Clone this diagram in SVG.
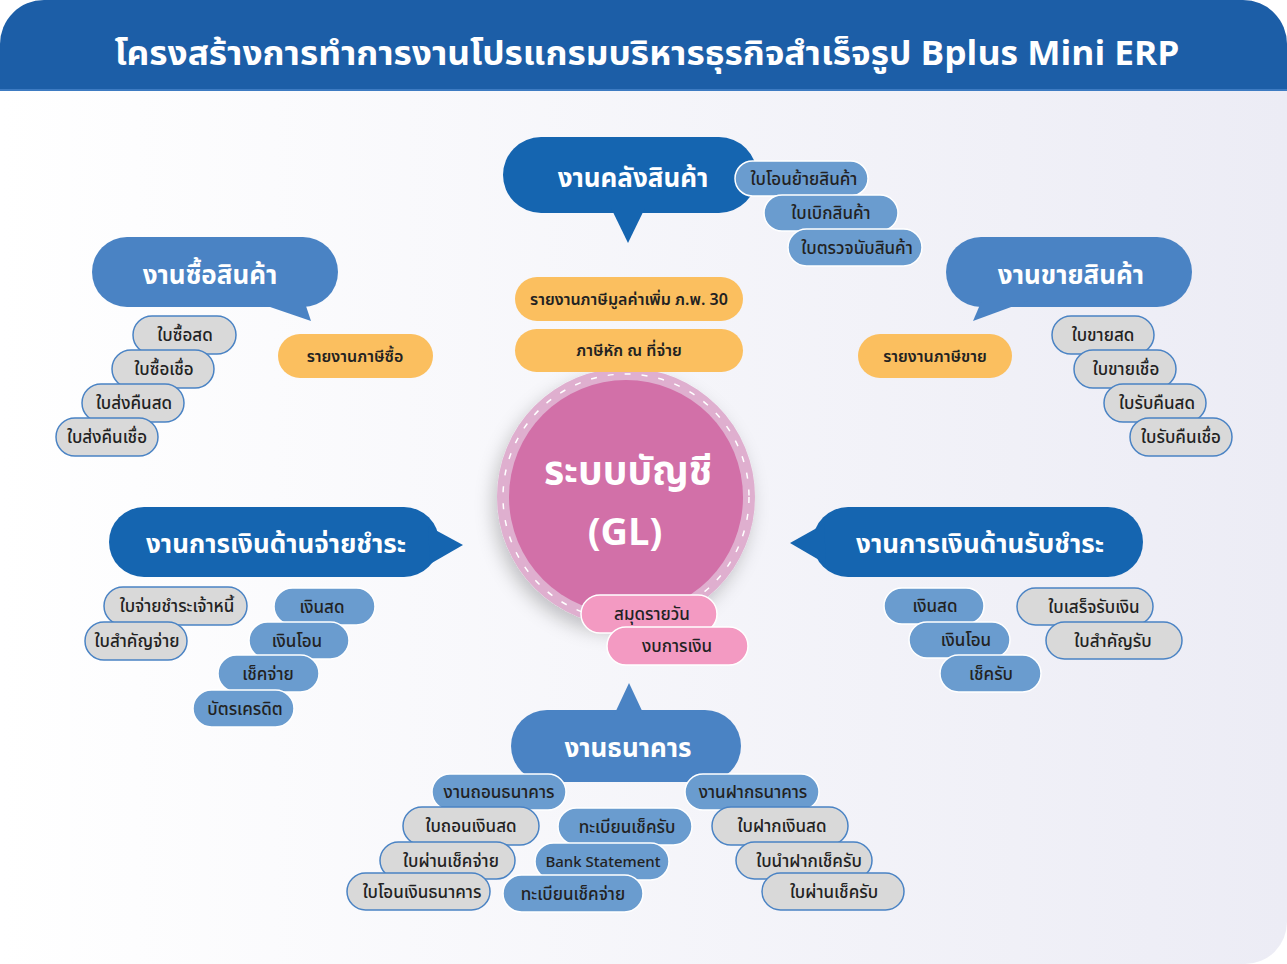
<svg xmlns="http://www.w3.org/2000/svg" width="1287" height="964" viewBox="0 0 1287 964">
<defs>
<linearGradient id="bg" x1="0" y1="0" x2="1" y2="0">
<stop offset="0" stop-color="#ffffff"/>
<stop offset="1" stop-color="#ececf5"/>
</linearGradient>
<filter id="sh" x="-30%" y="-30%" width="160%" height="160%">
<feDropShadow dx="-4" dy="8" stdDeviation="9" flood-color="#000" flood-opacity="0.22"/>
</filter>
<style>
text{font-family:"Noto Sans Thai","Noto Sans","DejaVu Sans",sans-serif;text-anchor:middle}
.head{fill:#fff;font-size:26px;font-weight:700}
.lbl{fill:#222;font-size:17px;font-weight:500}
.olbl{fill:#222;font-size:16px;font-weight:600}
.dk{fill:#1565b0}
.md{fill:#4a83c4}
.lb{fill:#6a9ccf;stroke:#fff;stroke-width:1.5}
.gr{fill:#d9d9d9;stroke:#4a83c4;stroke-width:1.5}
.or{fill:#fbbf5f}
.pk{fill:#f39ac2;stroke:#fff;stroke-width:1.5}
</style>
</defs>
<path d="M0,44 A44,44 0 0 1 44,0 H1243 A44,44 0 0 1 1287,44 V922 A42,42 0 0 1 1245,964 H0 Z" fill="url(#bg)"/>
<g id="header">
<path d="M0,44 A44,44 0 0 1 44,0 H1243 A44,44 0 0 1 1287,44 V90 H0 Z" fill="#1c5ea7"/>
<line x1="0" y1="90" x2="1287" y2="90" stroke="#3d7bc2" stroke-width="2"/>
<text x="647" y="65" textLength="1065" lengthAdjust="spacingAndGlyphs" style="fill:#fff;font-size:34px;font-weight:700">โครงสร้างการทำการงานโปรแกรมบริหารธุรกิจสำเร็จรูป Bplus Mini ERP</text>
</g>
<g id="connectors"/>
<g id="gl">
<circle cx="626" cy="497" r="129" fill="#dfafcf" filter="url(#sh)"/>
<circle cx="626" cy="497" r="117" fill="#d270a8"/>
<circle cx="626" cy="497" r="123" fill="none" stroke="#fff" stroke-width="1.5" stroke-dasharray="6 11"/>
<text x="628" y="484" style="fill:#fff;font-size:39px;font-weight:700">ระบบบัญชี</text>
<text x="625" y="545" style="fill:#fff;font-size:38px;font-weight:700">(GL)</text>
</g>
<g id="warehouse">
<rect class="dk" x="503" y="137" width="254" height="76" rx="38"/>
<polygon class="dk" points="611,208 645,208 628,243"/>
<text class="head" x="633" y="187">งานคลังสินค้า</text>
<rect class="lb" x="735" y="161" width="133" height="35" rx="17.5"/>
<text class="lbl" x="804" y="185">ใบโอนย้ายสินค้า</text>
<rect class="lb" x="764" y="195" width="134" height="36" rx="18"/>
<text class="lbl" x="831" y="219">ใบเบิกสินค้า</text>
<rect class="lb" x="788" y="229" width="134" height="37" rx="18.5"/>
<text class="lbl" x="857" y="254">ใบตรวจนับสินค้า</text>
</g>
<g id="tax">
<rect class="or" x="515" y="277" width="228" height="44" rx="22"/>
<text class="olbl" x="629" y="305">รายงานภาษีมูลค่าเพิ่ม ภ.พ. 30</text>
<rect class="or" x="515" y="329" width="228" height="43" rx="21.5"/>
<text class="olbl" x="629" y="356">ภาษีหัก ณ ที่จ่าย</text>
</g>
<g id="purchase">
<rect class="md" x="92" y="237" width="246" height="70" rx="35"/>
<polygon class="md" points="250,300 304,300 311,321"/>
<text class="head" x="210" y="284">งานซื้อสินค้า</text>
<rect class="or" x="278" y="334" width="155" height="44" rx="22"/>
<text class="olbl" x="355" y="362">รายงานภาษีซื้อ</text>
<rect class="gr" x="133" y="316" width="103" height="38" rx="19"/>
<text class="lbl" x="185" y="341">ใบซื้อสด</text>
<rect class="gr" x="112" y="350" width="102" height="38" rx="19"/>
<text class="lbl" x="164" y="375">ใบซื้อเชื่อ</text>
<rect class="gr" x="82" y="384" width="102" height="38" rx="19"/>
<text class="lbl" x="134" y="409">ใบส่งคืนสด</text>
<rect class="gr" x="56" y="418" width="102" height="38" rx="19"/>
<text class="lbl" x="107" y="443">ใบส่งคืนเชื่อ</text>
</g>
<g id="sales">
<rect class="md" x="946" y="237" width="246" height="70" rx="35"/>
<polygon class="md" points="982,300 1030,300 973,321"/>
<text class="head" x="1071" y="284">งานขายสินค้า</text>
<rect class="or" x="858" y="334" width="154" height="44" rx="22"/>
<text class="olbl" x="935" y="362">รายงานภาษีขาย</text>
<rect class="gr" x="1052" y="316" width="102" height="38" rx="19"/>
<text class="lbl" x="1103" y="341">ใบขายสด</text>
<rect class="gr" x="1074" y="350" width="102" height="38" rx="19"/>
<text class="lbl" x="1126" y="375">ใบขายเชื่อ</text>
<rect class="gr" x="1104" y="384" width="102" height="38" rx="19"/>
<text class="lbl" x="1157" y="409">ใบรับคืนสด</text>
<rect class="gr" x="1130" y="418" width="102" height="38" rx="19"/>
<text class="lbl" x="1181" y="443">ใบรับคืนเชื่อ</text>
</g>
<g id="payment">
<rect class="dk" x="109" y="507" width="330" height="70" rx="35"/>
<polygon class="dk" points="428,526 463,545 430,564"/>
<text class="head" x="276" y="553">งานการเงินด้านจ่ายชำระ</text>
<rect class="gr" x="104" y="587" width="143" height="38" rx="19"/>
<text class="lbl" x="177" y="612">ใบจ่ายชำระเจ้าหนี้</text>
<rect class="gr" x="85" y="622" width="102" height="38" rx="19"/>
<text class="lbl" x="137" y="647">ใบสำคัญจ่าย</text>
<rect class="lb" x="274" y="588" width="101" height="37" rx="18.5"/>
<text class="lbl" x="322" y="613">เงินสด</text>
<rect class="lb" x="249" y="622" width="100" height="37" rx="18.5"/>
<text class="lbl" x="297" y="647">เงินโอน</text>
<rect class="lb" x="218" y="655" width="101" height="37" rx="18.5"/>
<text class="lbl" x="268" y="680">เช็คจ่าย</text>
<rect class="lb" x="193" y="690" width="101" height="37" rx="18.5"/>
<text class="lbl" x="245" y="715">บัตรเครดิต</text>
</g>
<g id="receipt">
<rect class="dk" x="813" y="507" width="330" height="70" rx="35"/>
<polygon class="dk" points="824,524 790,543 826,564"/>
<text class="head" x="980" y="553">งานการเงินด้านรับชำระ</text>
<rect class="lb" x="884" y="588" width="100" height="36" rx="18"/>
<text class="lbl" x="935" y="612">เงินสด</text>
<rect class="lb" x="909" y="622" width="101" height="36" rx="18"/>
<text class="lbl" x="966" y="646">เงินโอน</text>
<rect class="lb" x="940" y="655" width="101" height="37" rx="18.5"/>
<text class="lbl" x="991" y="680">เช็ครับ</text>
<rect class="gr" x="1017" y="588" width="136" height="37" rx="18.5"/>
<text class="lbl" x="1094" y="613">ใบเสร็จรับเงิน</text>
<rect class="gr" x="1046" y="622" width="136" height="37" rx="18.5"/>
<text class="lbl" x="1113" y="647">ใบสำคัญรับ</text>
</g>
<g id="statements">
<rect class="pk" x="581" y="595" width="136" height="38" rx="19"/>
<text class="lbl" x="652" y="620">สมุดรายวัน</text>
<rect class="pk" x="607" y="627" width="141" height="38" rx="19"/>
<text class="lbl" x="677" y="652">งบการเงิน</text>
</g>
<g id="bank">
<rect class="md" x="511" y="710" width="230" height="72" rx="36"/>
<polygon class="md" points="614,715 644,715 629,683"/>
<text class="head" x="628" y="757">งานธนาคาร</text>
<rect class="lb" x="432" y="774" width="134" height="36" rx="18"/>
<text class="lbl" x="499" y="798">งานถอนธนาคาร</text>
<rect class="gr" x="403" y="807" width="136" height="38" rx="19"/>
<text class="lbl" x="471" y="832">ใบถอนเงินสด</text>
<rect class="gr" x="380" y="842" width="135" height="37" rx="18.5"/>
<text class="lbl" x="451" y="867">ใบผ่านเช็คจ่าย</text>
<rect class="gr" x="347" y="873" width="143" height="37" rx="18.5"/>
<text class="lbl" x="422" y="898">ใบโอนเงินธนาคาร</text>
<rect class="lb" x="558" y="808" width="134" height="37" rx="18.5"/>
<text class="lbl" x="627" y="833">ทะเบียนเช็ครับ</text>
<rect class="lb" x="535" y="843" width="134" height="37" rx="18.5"/>
<text class="lbl" x="603" y="867" style="font-size:15px">Bank Statement</text>
<rect class="lb" x="503" y="875" width="140" height="37" rx="18.5"/>
<text class="lbl" x="573" y="900">ทะเบียนเช็คจ่าย</text>
<rect class="lb" x="685" y="774" width="134" height="36" rx="18"/>
<text class="lbl" x="753" y="798">งานฝากธนาคาร</text>
<rect class="gr" x="712" y="807" width="136" height="38" rx="19"/>
<text class="lbl" x="782" y="832">ใบฝากเงินสด</text>
<rect class="gr" x="736" y="842" width="136" height="37" rx="18.5"/>
<text class="lbl" x="809" y="867">ใบนำฝากเช็ครับ</text>
<rect class="gr" x="762" y="873" width="142" height="37" rx="18.5"/>
<text class="lbl" x="834" y="898">ใบผ่านเช็ครับ</text>
</g>
</svg>
